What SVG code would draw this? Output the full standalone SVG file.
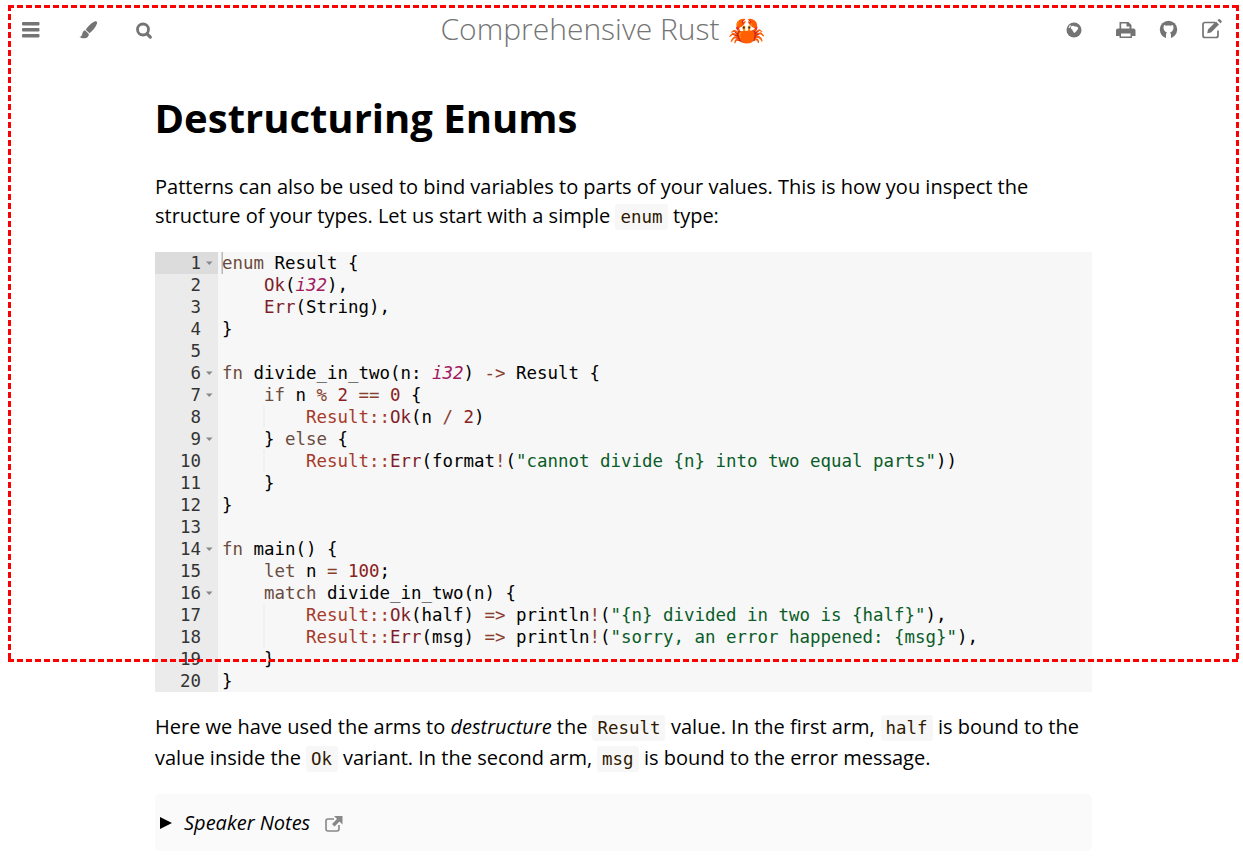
<svg xmlns="http://www.w3.org/2000/svg" width="1243" height="856" viewBox="0 0 1243 856">
<style>
text{white-space:pre}
.p{font:20px "Open Sans","Noto Sans",sans-serif;fill:#000}
.c{font:17.44px "DejaVu Sans Mono","Liberation Mono",monospace;fill:#000}
.n{font:17.44px "DejaVu Sans Mono","Liberation Mono",monospace;fill:#333;text-anchor:end}
.i{font:17.44px "DejaVu Sans Mono","Liberation Mono",monospace;fill:#301900}
.k{fill:#6b4a3f}.t{fill:#7f1d2a}.v{fill:#a63a2a}.y{fill:#a3185f;font-style:italic}.m{fill:#8a2020}.o{fill:#8a4030}.s{fill:#0a5c28}
.ic{fill:#747474}
.chip{fill:#f6f7f6}
.fold{fill:#888}
.ig{stroke:#ddd;stroke-width:1;stroke-dasharray:1 1}
.dash{fill:none;stroke:#f00;stroke-width:3;stroke-dasharray:6 3}
</style>
<rect width="1243" height="856" fill="#fff"/>
<g id="menu-bar">
<g id="icon-menu" class="ic"><rect x="22" y="22" width="17.500" height="3.500" rx="1"/><rect x="22" y="28" width="17.500" height="3.500" rx="1"/><rect x="22" y="34" width="17.500" height="3.500" rx="1"/></g>
<g id="icon-brush" class="ic"><path d="M94.500 21.500c2-.8 3 .2 2.500 2-1.500 4-4.500 7.500-7.500 9.800l-3.800-3.600c2.200-3.400 5.300-6.300 8.800-8.200z"/><path d="M85 30.300l3.800 3.600c.2 2.700-2 4.400-4.600 4.400-1.800 0-3.500-.5-4.900-1.500 1.500-.2 2.400-.9 2.800-2.400.4-2 1.200-3.500 2.900-4.100z"/></g>
<g id="icon-search"><circle cx="143" cy="29.500" r="5.500" fill="none" stroke="#747474" stroke-width="2.800"/><path d="M147 33.800l3.300 3.300" stroke="#747474" stroke-width="3.200" stroke-linecap="round"/></g>
<text id="title" x="440.500" y="40" style="font:300 30px 'Open Sans','Noto Sans',sans-serif;fill:#747474">Comprehensive Rust</text>
<text id="crab" x="728" y="41" style="font:30px 'Noto Color Emoji','Noto Sans',sans-serif">🦀</text>
<g id="icon-globe"><circle cx="1074" cy="30" r="7.500" fill="#747474"/><path d="M1071 26.500c1.500-1.300 3-1 4 .2 1.500-.6 3 .2 3.200 1.800-.8 1.800-2.300 3.200-3.700 4.500-1.300-1-1.800-2.200-2.300-3.500-1-.2-1.600-1.700-1.200-3z" fill="#fff"/><path d="M1068.500 27.500l1.500-2.500 1 .5-1.200 2.500z" fill="#fff"/></g>
<g id="icon-print" class="ic"><path d="M1119.500 22h9l3 3v5h-2v-3.600h-3v-3h-5.300v6.600h-1.700z"/><path d="M1116 30.500a2 2 0 0 1 2-2h15.500a2 2 0 0 1 2 2v5.500h-3.500v2h-12.500v-2h-3.500zM1121 33.500v3h9.500v-3z"/></g>
<g id="icon-github"><circle cx="1168.500" cy="29.500" r="8.700" fill="#747474"/><path d="M1163.500 27.500c0-1 .2-1.800.7-2.500l2.300.8c1.200-.4 2.800-.4 4 0l2.300-.8c.5.700.7 1.500.7 2.500 0 3-2 4.500-3.500 4.900.6.500 1 1.300 1 2.300v4h-5v-4c0-1 .4-1.800 1-2.300-1.500-.4-3.500-1.900-3.500-4.900z" fill="#fff"/><path d="M1161 32.500l3.500 2.500v2l-2.500-1.500z" fill="#747474"/></g>
<g id="icon-edit"><path d="M1218 30.500v5a2 2 0 0 1-2 2h-11a2 2 0 0 1-2-2v-11a2 2 0 0 1 2-2h10" fill="none" stroke="#747474" stroke-width="1.700"/><path d="M1208 29.500l8-8 3 3-8 8-3.800.8zM1217.500 20.200l1-.9a1 1 0 0 1 1.400 0l1.600 1.600a1 1 0 0 1 0 1.400l-1 1z" fill="#747474"/></g>
</g>
<text id="heading" x="154.500" y="133" style="font:700 40px 'Open Sans','Noto Sans',sans-serif;fill:#000">Destructuring Enums</text>
<g id="intro">
<text class="p" x="155" y="194">Patterns can also be used to bind variables to parts of your values. This is how you inspect the</text>
<text class="p" x="155" y="223">structure of your types. Let us start with a simple</text>
<rect class="chip" x="615" y="204" width="53" height="26" rx="3"/>
<text class="i" x="620.500" y="223">enum</text>
<text class="p" x="673" y="223">type:</text>
</g>
<g id="code-block">
<rect x="155" y="252" width="937" height="440" fill="#f6f7f6"/>
<rect x="155" y="252" width="63" height="440" fill="#ebebeb"/>
<rect x="155" y="252" width="63" height="22" fill="#dcdcdc"/>
<rect x="221.500" y="252" width="1.500" height="22" fill="#b8b8b8"/>
<g id="indent-guides"><path class="ig" d="M264 406v22M264 450v22M264 604v44"/></g>
<g id="gutter">
<text class="n" x="201" y="269">1</text><text class="n" x="201" y="291">2</text><text class="n" x="201" y="313">3</text><text class="n" x="201" y="335">4</text><text class="n" x="201" y="357">5</text><text class="n" x="201" y="379">6</text><text class="n" x="201" y="401">7</text><text class="n" x="201" y="423">8</text><text class="n" x="201" y="445">9</text><text class="n" x="201" y="467">10</text><text class="n" x="201" y="489">11</text><text class="n" x="201" y="511">12</text><text class="n" x="201" y="533">13</text><text class="n" x="201" y="555">14</text><text class="n" x="201" y="577">15</text><text class="n" x="201" y="599">16</text><text class="n" x="201" y="621">17</text><text class="n" x="201" y="643">18</text><text class="n" x="201" y="665">19</text><text class="n" x="201" y="687">20</text>
<path class="fold" d="M206 261.500h6.500l-3.250 3.500zM206 371.500h6.500l-3.250 3.500zM206 393.500h6.500l-3.250 3.500zM206 437.500h6.500l-3.250 3.500zM206 547.500h6.500l-3.250 3.500zM206 591.500h6.500l-3.250 3.500z"/>
</g>
<g id="code">
<text class="c" x="222" y="269"><tspan class="k">enum</tspan> Result {</text>
<text class="c" x="222" y="291">    <tspan class="t">Ok</tspan>(<tspan class="y">i32</tspan>),</text>
<text class="c" x="222" y="313">    <tspan class="t">Err</tspan>(String),</text>
<text class="c" x="222" y="335">}</text>
<text class="c" x="222" y="379"><tspan class="k">fn</tspan> divide_in_two(n: <tspan class="y">i32</tspan>) <tspan class="o">-&gt;</tspan> Result {</text>
<text class="c" x="222" y="401">    <tspan class="k">if</tspan> n <tspan class="o">%</tspan> <tspan class="m">2</tspan> <tspan class="o">==</tspan> <tspan class="m">0</tspan> {</text>
<text class="c" x="222" y="423">        <tspan class="v">Result::</tspan><tspan class="t">Ok</tspan>(n <tspan class="o">/</tspan> <tspan class="m">2</tspan>)</text>
<text class="c" x="222" y="445">    } <tspan class="k">else</tspan> {</text>
<text class="c" x="222" y="467">        <tspan class="v">Result::</tspan><tspan class="t">Err</tspan>(format<tspan class="o">!</tspan>(<tspan class="s">"cannot divide {n} into two equal parts"</tspan>))</text>
<text class="c" x="222" y="489">    }</text>
<text class="c" x="222" y="511">}</text>
<text class="c" x="222" y="555"><tspan class="k">fn</tspan> main() {</text>
<text class="c" x="222" y="577">    <tspan class="k">let</tspan> n <tspan class="o">=</tspan> <tspan class="m">100</tspan>;</text>
<text class="c" x="222" y="599">    <tspan class="k">match</tspan> divide_in_two(n) {</text>
<text class="c" x="222" y="621">        <tspan class="v">Result::</tspan><tspan class="t">Ok</tspan>(half) <tspan class="o">=&gt;</tspan> println<tspan class="o">!</tspan>(<tspan class="s">"{n} divided in two is {half}"</tspan>),</text>
<text class="c" x="222" y="643">        <tspan class="v">Result::</tspan><tspan class="t">Err</tspan>(msg) <tspan class="o">=&gt;</tspan> println<tspan class="o">!</tspan>(<tspan class="s">"sorry, an error happened: {msg}"</tspan>),</text>
<text class="c" x="222" y="665">    }</text>
<text class="c" x="222" y="687">}</text>
</g>
</g>
<g id="outro">
<text class="p" x="155" y="734">Here we have used the arms to <tspan font-style="italic">destructure</tspan> the</text>
<rect class="chip" x="592" y="715" width="73" height="26" rx="3"/>
<text class="i" x="597.500" y="734">Result</text>
<text class="p" x="671" y="734">value. In the first arm,</text>
<rect class="chip" x="881" y="715" width="52" height="26" rx="3"/>
<text class="i" x="885.500" y="734">half</text>
<text class="p" x="938" y="734">is bound to the</text>
<text class="p" x="155" y="765">value inside the</text>
<rect class="chip" x="306" y="746" width="32" height="26" rx="3"/>
<text class="i" x="311" y="765">Ok</text>
<text class="p" x="343" y="765">variant. In the second arm,</text>
<rect class="chip" x="597" y="746" width="42" height="26" rx="3"/>
<text class="i" x="602" y="765">msg</text>
<text class="p" x="644" y="765">is bound to the error message.</text>
</g>
<g id="speaker-notes">
<rect x="155" y="794" width="937" height="57" rx="5" fill="#fafafa"/>
<path d="M160 817l12 6-12 6z" fill="#000"/>
<text class="p" x="184" y="830" style="font-style:italic">Speaker Notes</text>
<g id="icon-external"><path d="M334 819h-6a2 2 0 0 0-2 2v8a2 2 0 0 0 2 2h9a2 2 0 0 0 2-2v-4" fill="none" stroke="#888" stroke-width="1.600"/><path d="M334 816h8.500v8.500l-3-3-5 5-2.500-2.500 5-5z" fill="#888"/></g>
</g>
<g id="viewport-outline"><path class="dash" d="M8 6.500H1239M9.500 5V662M8 660.500H1239M1237.500 5V662"/></g>
</svg>
